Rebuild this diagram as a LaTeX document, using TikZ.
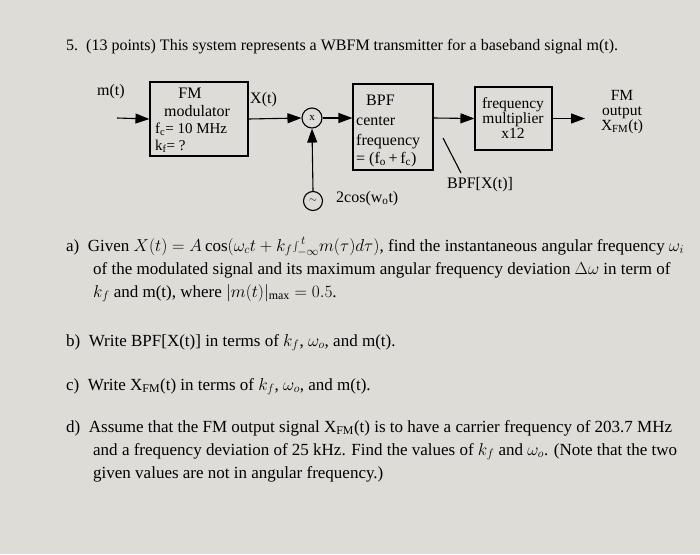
\documentclass[tikz,border=0pt]{standalone}
\usepackage{fontspec}
\setmainfont{Liberation Serif}
\usetikzlibrary{arrows.meta}
\begin{document}
\begin{tikzpicture}[x=1pt,y=-1pt,
  every node/.style={inner sep=0pt,font=\fontsize{17}{19}\selectfont},
  tx/.style={anchor=base west},
  dg/.style={font=\fontsize{16}{18}\selectfont},
  sm/.style={font=\fontsize{15.5}{17}\selectfont},
  blk/.style={draw,line width=1.1pt},
  arr/.style={line width=1.1pt,-{Triangle[length=14pt,width=10pt]}},
  ln/.style={line width=1.1pt}]
\fill[color={rgb,255:red,222;green,220;blue,214}] (0,0) rectangle (700,554);
\useasboundingbox (0,0) rectangle (700,554);
\node[tx,font=\fontsize{16}{18}\selectfont] (title) at (66,50) {5.\ \ (13 points) This system represents a WBFM transmitter for a baseband signal m(t).};
% diagram
\node[tx,dg] (mt) at (97,95) {m(t)};
\coordinate (in) at (117,118);
\node[blk,minimum width=98pt,minimum height=74pt] (mod) at (199,119) {};
\node[dg] (fm1) at (190,93) {FM};
\node[dg] (fm2) at (197,111) {modulator};
\node[tx,font=\fontsize{15}{17}\selectfont] (fc) at (155,133) {f\textsubscript{c}= 10 MHz};
\node[tx,font=\fontsize{15}{17}\selectfont] (kf) at (155,150.5) {k\textsubscript{f}= ?};
\node[tx,dg] (xt) at (250,103) {X(t)};
\node[draw,circle,ln,minimum size=20pt] (mix) at (312,118) {\fontsize{11}{12}\selectfont x};
\node[blk,minimum width=80pt,minimum height=86pt] (bpf) at (393,127) {};
\node[tx,dg] (b1) at (366,105) {BPF};
\node[tx,dg] (b2) at (356,125) {center};
\node[tx,dg] (b3) at (356,145) {frequency};
\node[tx,dg] (b4) at (356,163) {= (f\textsubscript{o}\,+\,f\textsubscript{c})};
\node[draw,circle,ln,minimum size=19pt] (osc) at (313,201) {\fontsize{10}{10}\selectfont$\sim$};
\node[tx,dg] (cos) at (336,202) {2cos(w\textsubscript{o}t)};
\node[blk,minimum width=77pt,minimum height=63pt] (mul) at (513.5,118.5) {};
\node[sm,align=center] (mt2) at (513,118) {frequency\\[-2pt]multiplier\\[-2pt]x12};
\coordinate (bs) at (443,138);
\coordinate (be) at (461,173);
\node[tx,dg] (bx) at (447,188) {BPF[X(t)]};
\node[sm,align=center] (out) at (622,112) {FM\\[-2pt]output\\[-2pt]X\textsubscript{FM}(t)};
\draw[arr] (in) -- (mod.west);
\draw[arr] (mod.east) -- (mix.west);
\draw[arr] (mix.east) -- (bpf.west |- mix.east);
\draw[arr] (osc.north) -- (mix.south);
\draw[arr] (bpf.east |- mix) -- (mul.west);
\draw[arr] (mul.east) -- (585,118.5) coordinate (oe);
\draw[ln] (bs) -- (be);
% questions
\node[tx] (a) at (66,251) {a)\ \ Given $X(t)=A\cos(\omega_c t+k_f\!\int\nolimits_{-\infty}^{\,t}\!m(\tau)d\tau)$, find the instantaneous angular frequency $\omega_i$};
\node[tx] (a2) at (93,274) {of the modulated signal and its maximum angular frequency deviation $\Delta\omega$ in term of};
\node[tx] (a3) at (93,297) {$k_f$ and m(t), where $|m(t)|_{\mathrm{max}}=0.5$.};
\node[tx] (b) at (66,346) {b)\ \ Write BPF[X(t)] in terms of $k_f$, $\omega_o$, and m(t).};
\node[tx] (c) at (66,390) {c)\ \ Write X\textsubscript{FM}(t) in terms of $k_f$, $\omega_o$, and m(t).};
\node[tx] (d) at (66,432) {d)\ \ Assume that the FM output signal X\textsubscript{FM}(t) is to have a carrier frequency of 203.7 MHz};
\node[tx] (d2) at (93,455) {and a frequency deviation of 25 kHz. Find the values of $k_f$ and $\omega_o$. (Note that the two};
\node[tx] (d3) at (93,478) {given values are not in angular frequency.)};
\end{tikzpicture}
\end{document}
